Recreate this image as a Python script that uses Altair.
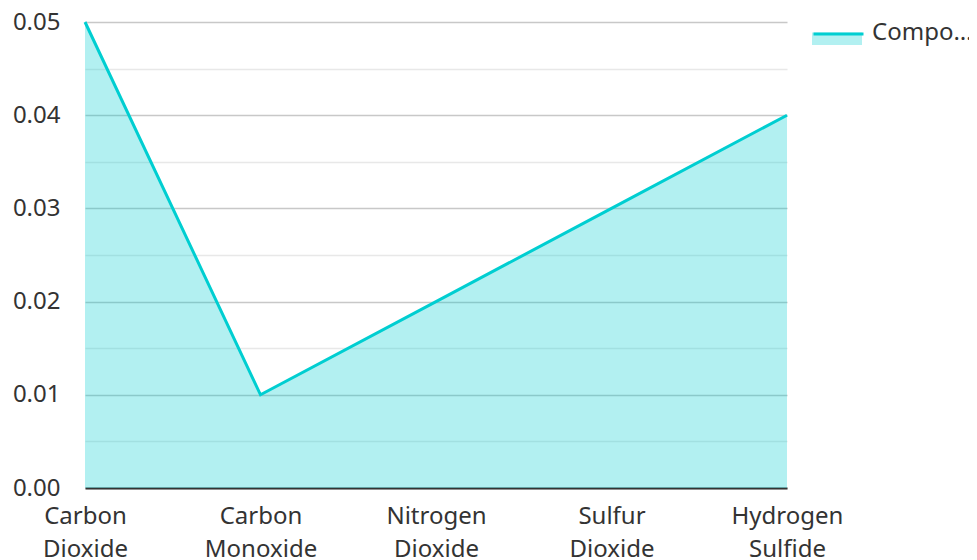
import altair as alt
import pandas as pd

categories = ["Carbon Dioxide", "Carbon Monoxide", "Nitrogen Dioxide", "Sulfur Dioxide", "Hydrogen Sulfide"]
values = [0.05, 0.01, 0.02, 0.03, 0.04]
series_name = "Composition (%)"
y_ticks = [0, 0.005, 0.01, 0.015, 0.02, 0.025, 0.03, 0.035, 0.04, 0.045, 0.05]

df = pd.DataFrame({"gas": categories, "value": values, "series": [series_name] * len(categories)})

TEAL = "#00CED1"
FONT = "Noto Sans"
FS = 24

x_enc = alt.X(
    "gas:N",
    sort=categories,
    scale=alt.Scale(type="point", padding=0),
    axis=alt.Axis(
        title=None,
        labelAngle=0,
        labelExpr="split(datum.label, ' ')",
        labelFontSize=FS,
        labelLineHeight=33,
        labelColor="#333333",
        labelPadding=16,
        ticks=False,
        domainColor="#333333",
        domainWidth=2,
        grid=False,
    ),
)
y_enc = alt.Y(
    "value:Q",
    scale=alt.Scale(domain=[0, 0.05], nice=False),
    axis=alt.Axis(
        title=None,
        values=y_ticks,
        labelExpr="round(datum.value * 1000) % 10 == 0 ? format(datum.value, '.2f') : ''",
        labelFontSize=FS,
        labelColor="#333333",
        labelPadding=25,
        ticks=False,
        domain=False,
        gridColor={"condition": {"test": "round(datum.value * 1000) % 10 == 0", "value": "#c8c8c8"}, "value": "#e8e8e8"},
        gridWidth=1.5,
    ),
)

area = alt.Chart(df).mark_area(opacity=0.3, interpolate="linear").encode(
    x=x_enc,
    y=y_enc,
    fill=alt.Fill(
        "series:N",
        scale=alt.Scale(range=[TEAL]),
        legend=alt.Legend(
            title=None,
            orient="none",
            legendX=727,
            legendY=-14.5,
            symbolType="M-1,0H1V0.5H-1Z",
            symbolSize=2500,
            symbolOpacity=0.3,
            symbolStrokeWidth=0,
            labelFontSize=FS,
            labelColor="#333333",
            labelLimit=102,
            labelOffset=10,
            padding=0,
        ),
    ),
)

line = alt.Chart(df).mark_line(strokeWidth=3, color=TEAL).encode(
    x=x_enc,
    y=y_enc,
    stroke=alt.Stroke(
        "series:N",
        scale=alt.Scale(range=[TEAL]),
        legend=alt.Legend(
            title=None,
            orient="none",
            legendX=727,
            legendY=-14.5,
            symbolType="M-1,0H1",
            symbolSize=2500,
            symbolStrokeWidth=3,
            labelFontSize=FS,
            labelExpr="''",
            labelOffset=10,
            padding=0,
        ),
    ),
)

chart = (
    alt.layer(area, line)
    .resolve_scale(fill="independent", stroke="independent")
    .properties(
        width=702,
        height=466,
        autosize=alt.AutoSizeParams(type="none"),
        padding={"left": 77, "top": 14, "right": 182, "bottom": 70},
    )
    .configure(font=FONT)
    .configure_view(stroke=None)
)

chart.save("out.html", embed_options={"renderer": "svg", "actions": False})
